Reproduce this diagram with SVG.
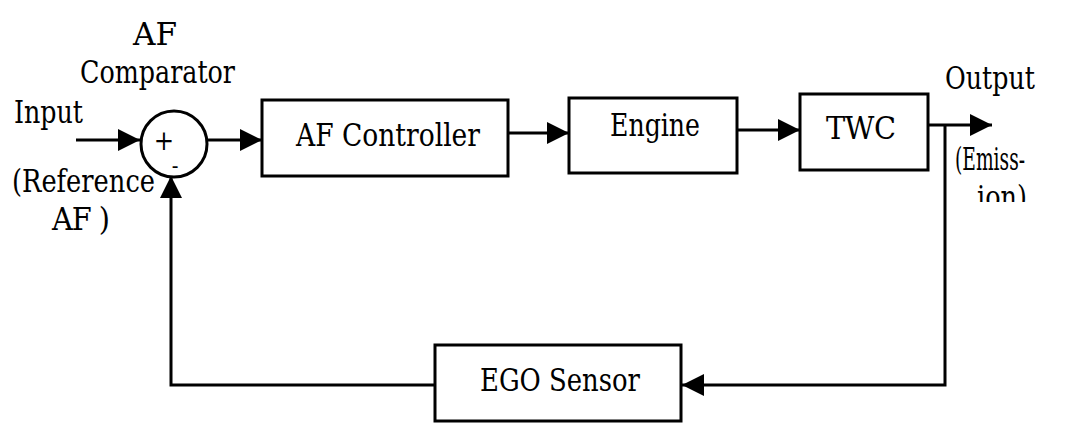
<svg xmlns="http://www.w3.org/2000/svg" width="1068" height="446" viewBox="0 0 1068 446">
<style>
text{font-family:"DejaVu Serif Condensed","DejaVu Serif","Liberation Serif",serif;font-size:32px;fill:#000}
.box{fill:#fff;stroke:#000;stroke-width:3}
.ln{fill:none;stroke:#000;stroke-width:3}
</style>
<defs>
<marker id="ah" markerWidth="22" markerHeight="22" viewBox="0 0 22 22" refX="22" refY="11" orient="auto" markerUnits="userSpaceOnUse">
<path d="M0,0 L22,11 L0,22 Z" fill="#000"/>
</marker>
<clipPath id="clipIon"><rect x="940" y="174" width="128" height="28"/></clipPath>
</defs>
<rect width="1068" height="446" fill="#fff"/>
<g id="connectors">
<line class="ln" x1="76" y1="140" x2="140" y2="140" marker-end="url(#ah)"/>
<line class="ln" x1="207" y1="140" x2="262" y2="140" marker-end="url(#ah)"/>
<line class="ln" x1="508" y1="133" x2="569" y2="133" marker-end="url(#ah)"/>
<line class="ln" x1="737" y1="130" x2="800" y2="130" marker-end="url(#ah)"/>
<line class="ln" x1="928" y1="125" x2="992" y2="125" marker-end="url(#ah)"/>
<polyline class="ln" points="945,125 945,385 682,385" marker-end="url(#ah)"/>
<polyline class="ln" points="435,385 171,385 171,176" marker-end="url(#ah)"/>
</g>
<g id="comparator">
<circle cx="174" cy="144" r="33" fill="#fff" stroke="#000" stroke-width="3"/>
<text x="164" y="150" text-anchor="middle" style="font-size:27px">+</text>
<text x="175" y="173" text-anchor="middle" style="font-size:22px">-</text>
<text x="133" y="45" textLength="44" lengthAdjust="spacingAndGlyphs">AF</text>
<text x="80" y="83" textLength="155" lengthAdjust="spacingAndGlyphs">Comparator</text>
</g>
<g id="input-label">
<text x="14" y="123" textLength="69" lengthAdjust="spacingAndGlyphs">Input</text>
<text x="12" y="192" textLength="143" lengthAdjust="spacingAndGlyphs">(Reference</text>
<text x="52" y="230" textLength="58" lengthAdjust="spacing">AF )</text>
</g>
<g id="af-controller">
<rect class="box" x="262" y="100" width="246" height="76"/>
<text x="296" y="146" textLength="184" lengthAdjust="spacingAndGlyphs">AF Controller</text>
</g>
<g id="engine">
<rect class="box" x="569" y="98" width="168" height="75"/>
<text x="610" y="136" textLength="90" lengthAdjust="spacingAndGlyphs">Engine</text>
</g>
<g id="twc">
<rect class="box" x="800" y="94" width="128" height="76"/>
<text x="826" y="139" textLength="70" lengthAdjust="spacing">TWC</text>
</g>
<g id="output-label">
<text x="945" y="89" textLength="90" lengthAdjust="spacingAndGlyphs">Output</text>
<text x="955" y="170" textLength="70" lengthAdjust="spacingAndGlyphs">(Emiss-</text>
<text x="977" y="208" textLength="50" lengthAdjust="spacingAndGlyphs" clip-path="url(#clipIon)">ion)</text>
</g>
<g id="ego-sensor">
<rect class="box" x="435" y="345" width="246" height="76"/>
<text x="480" y="391" textLength="160" lengthAdjust="spacingAndGlyphs">EGO Sensor</text>
</g>
</svg>
